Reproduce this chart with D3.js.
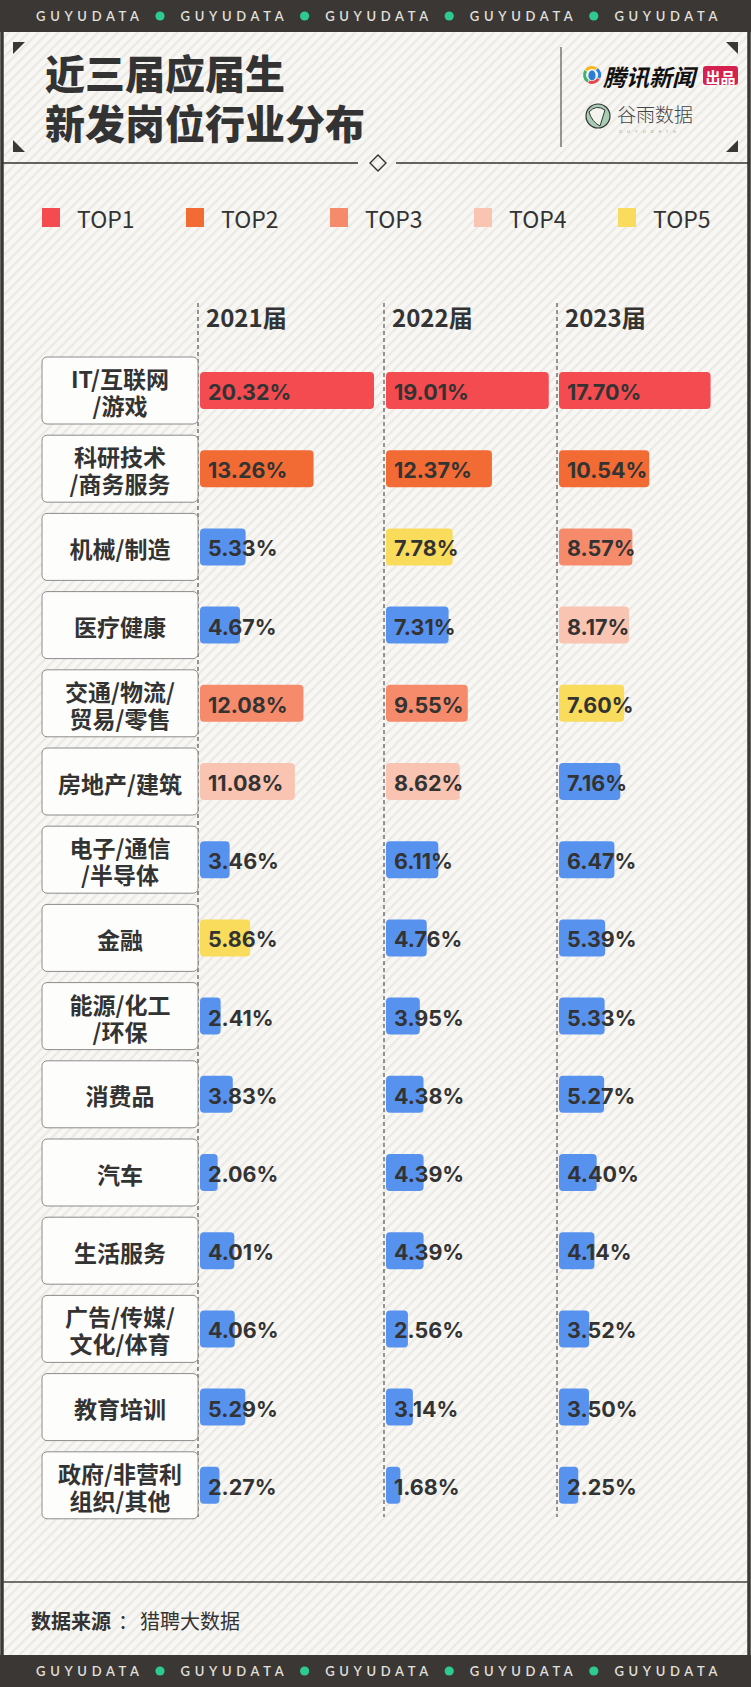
<!DOCTYPE html>
<html><head><meta charset="utf-8">
<script src="https://cdn.jsdelivr.net/npm/d3@7"></script>
<style>
html,body{margin:0;padding:0;background:#f8f7f4;}
svg{display:block;}
</style></head>
<body>
<script>
// ---------- DATA ----------
const categories = [
  ["IT/互联网","/游戏"],
  ["科研技术","/商务服务"],
  ["机械/制造"],
  ["医疗健康"],
  ["交通/物流/","贸易/零售"],
  ["房地产/建筑"],
  ["电子/通信","/半导体"],
  ["金融"],
  ["能源/化工","/环保"],
  ["消费品"],
  ["汽车"],
  ["生活服务"],
  ["广告/传媒/","文化/体育"],
  ["教育培训"],
  ["政府/非营利","组织/其他"]
];
const years = ["2021届","2022届","2023届"];
const v2021 = [20.32,13.26,5.33,4.67,12.08,11.08,3.46,5.86,2.41,3.83,2.06,4.01,4.06,5.29,2.27];
const v2022 = [19.01,12.37,7.78,7.31,9.55,8.62,6.11,4.76,3.95,4.38,4.39,4.39,2.56,3.14,1.68];
const v2023 = [17.70,10.54,8.57,8.17,7.60,7.16,6.47,5.39,5.33,5.27,4.40,4.14,3.52,3.50,2.25];
const legendLabels = ["TOP1","TOP2","TOP3","TOP4","TOP5"];
const titleLines = ["近三届应届生","新发岗位行业分布"];
const bandWord = "GUYUDATA";
const sourceLabel = "数据来源";
const sourceText = "猎聘大数据";

// ---------- STYLE ----------
const W = 751, H = 1687;
const topColors = ["#f44b50","#f26a34","#f68b6c","#f9c4b1","#f9dc5b"];
const otherColor = "#5892ef";
const dark = "#3b3735";
const textDark = "#333";
const cjk = "'Noto Sans CJK SC','Noto Sans',sans-serif";
const num = "Inter,'Open Sans',sans-serif";

const svg = d3.select("body").append("svg").attr("width", W).attr("height", H);
const defs = svg.append("defs");
const pat = defs.append("pattern").attr("id","stripes").attr("patternUnits","userSpaceOnUse")
  .attr("width",7).attr("height",7).attr("patternTransform","rotate(45)");
pat.append("rect").attr("width",7).attr("height",7).attr("fill","#f8f7f4");
pat.append("rect").attr("x",0).attr("width",2.2).attr("height",7).attr("fill","#ebe9e5");

svg.append("rect").attr("width",W).attr("height",H).attr("fill","url(#stripes)");

// bands
function band(y0){
  svg.append("rect").attr("x",0).attr("y",y0).attr("width",W).attr("height",32).attr("fill",dark);
  for(let i=0;i<5;i++){
    const x = 36 + i*144.6;
    svg.append("text").attr("x",x).attr("y",y0+16).attr("dominant-baseline","central")
      .attr("font-family","Lato,'Open Sans',sans-serif").attr("font-weight",600).attr("font-size",13)
      .attr("textLength",103).attr("lengthAdjust","spacing")
      .attr("fill","#e2e0dd").text(bandWord);
    if(i<4) svg.append("circle").attr("cx",x+124).attr("cy",y0+16).attr("r",4.6).attr("fill","#2dcc8e");
  }
}
band(0);
band(1655);

// frame
svg.append("line").attr("x1",2).attr("x2",2).attr("y1",31).attr("y2",1656).attr("stroke",dark).attr("stroke-width",3.5);
svg.append("line").attr("x1",749).attr("x2",749).attr("y1",31).attr("y2",1656).attr("stroke",dark).attr("stroke-width",3.5);

// corner triangles
const tri = [[13,42,1,1],[738,42,-1,1],[13,152,1,-1],[738,152,-1,-1]];
tri.forEach(([x,y,sx,sy])=>{
  svg.append("path").attr("d",`M${x},${y}L${x+12*sx},${y}L${x},${y+12*sy}Z`).attr("fill",dark);
});

// title
titleLines.forEach((t,i)=>{
  svg.append("text").attr("x",45).attr("y",72+i*50).attr("dominant-baseline","central")
    .attr("font-family",cjk).attr("font-weight",900).attr("font-size",40).attr("fill",textDark).text(t);
});

// header divider
svg.append("line").attr("x1",561).attr("x2",561).attr("y1",47).attr("y2",147).attr("stroke","#555").attr("stroke-width",1.2);

// Tencent logo
const lg = svg.append("g").attr("transform","translate(592,75)");
const arcG = d3.arc().innerRadius(6).outerRadius(9);
const segs = [["#f6b81d",-0.9,0.6],["#2f7fe0",0.7,2.0],["#e8464a",2.1,3.6],["#3db46d",3.7,5.3]];
segs.forEach(([c,a0,a1])=>lg.append("path").attr("d",arcG({startAngle:a0,endAngle:a1})).attr("fill",c));
lg.append("ellipse").attr("cx",0).attr("cy",0.5).attr("rx",3.6).attr("ry",5).attr("fill","#2b7cd3");
svg.append("text").attr("x",603).attr("y",76).attr("dominant-baseline","central")
  .attr("font-family",cjk).attr("font-weight",700).attr("font-style","italic").attr("font-size",23)
  .attr("fill","#111").text("腾讯新闻");
svg.append("rect").attr("x",703).attr("y",66).attr("width",35).attr("height",19).attr("rx",3).attr("fill","#d6204f");
svg.append("text").attr("x",720.5).attr("y",76).attr("text-anchor","middle").attr("dominant-baseline","central")
  .attr("font-family",cjk).attr("font-weight",700).attr("font-size",15).attr("fill","#fff").text("出品");

// Guyu logo
svg.append("circle").attr("cx",598).attr("cy",116).attr("r",12).attr("fill","#a9cdb3").attr("stroke","#333").attr("stroke-width",1.2);
svg.append("path").attr("d","M589,112 Q596,104 605,110 L600,126 Q592,122 589,112Z").attr("fill","#f4f4ef").attr("stroke","#333").attr("stroke-width",1);
svg.append("text").attr("x",617).attr("y",113).attr("dominant-baseline","central")
  .attr("font-family",cjk).attr("font-weight",300).attr("font-size",19).attr("fill","#444").text("谷雨数据");
svg.append("text").attr("x",619).attr("y",131).attr("dominant-baseline","central")
  .attr("font-family",num).attr("font-size",4).attr("letter-spacing",5).attr("fill","#999").text("GUYUDATA");

// header line with diamond
svg.append("line").attr("x1",2).attr("x2",358).attr("y1",163).attr("y2",163).attr("stroke","#333").attr("stroke-width",1.4);
svg.append("line").attr("x1",396).attr("x2",749).attr("y1",163).attr("y2",163).attr("stroke","#333").attr("stroke-width",1.4);
svg.append("path").attr("d","M378,155L386,163L378,171L370,163Z").attr("fill","none").attr("stroke","#333").attr("stroke-width",1.4);

// legend
const leg = svg.append("g").selectAll("g").data(legendLabels).join("g")
  .attr("transform",(d,i)=>`translate(${42+i*144},208)`);
leg.append("rect").attr("width",18).attr("height",19).attr("fill",(d,i)=>topColors[i]);
leg.append("text").attr("x",35).attr("y",10).attr("dominant-baseline","central")
  .attr("font-family",cjk).attr("font-weight",400).attr("font-size",23).attr("fill",textDark).text(d=>d);

// scales
const idx = d3.range(categories.length);
const y = d3.scalePoint().domain(idx).range([390.5,1485.3]);
const colX = [198,384,557];
const x = d3.scaleLinear().domain([0,20.32]).range([0,174]);
const series = [v2021,v2022,v2023];

// column headers & dashed lines
years.forEach((yr,j)=>{
  svg.append("line").attr("x1",colX[j]).attr("x2",colX[j]).attr("y1",303).attr("y2",1517)
    .attr("stroke","#333").attr("stroke-width",1).attr("stroke-dasharray","4,3");
  svg.append("text").attr("x",colX[j]+8).attr("y",316).attr("dominant-baseline","central")
    .attr("font-family",cjk).attr("font-weight",700).attr("font-size",24).attr("fill",textDark).text(yr);
});

// row labels
const rows = svg.append("g").selectAll("g").data(idx).join("g")
  .attr("transform",d=>`translate(0,${y(d)})`);
rows.append("rect").attr("x",42).attr("y",-33.5).attr("width",156).attr("height",67).attr("rx",5)
  .attr("fill","#fdfdfc").attr("stroke","#8c8c8c").attr("stroke-width",1);
rows.each(function(d){
  const lines = categories[d];
  const t = d3.select(this).append("text").attr("text-anchor","middle")
    .attr("font-family",cjk).attr("font-weight",700).attr("font-size",23).attr("fill",textDark);
  if(lines.length===1){
    t.append("tspan").attr("x",120).attr("y",1).attr("dominant-baseline","central").text(lines[0]);
  } else {
    t.append("tspan").attr("x",120).attr("y",-12.5).attr("dominant-baseline","central").text(lines[0]);
    t.append("tspan").attr("x",120).attr("y",14.5).attr("dominant-baseline","central").text(lines[1]);
  }
});

// bars
series.forEach((vals,j)=>{
  const ranked = vals.map((v,i)=>i).sort((a,b)=>vals[b]-vals[a]);
  const rank = {};
  ranked.forEach((i,r)=>rank[i]=r);
  const g = svg.append("g");
  g.selectAll("rect").data(idx).join("rect")
    .attr("x",colX[j]+2).attr("y",d=>y(d)-18.5).attr("height",37)
    .attr("width",d=>x(vals[d])).attr("rx",4)
    .attr("fill",d=>rank[d]<5?topColors[rank[d]]:otherColor);
  g.selectAll("text").data(idx).join("text")
    .attr("x",colX[j]+10).attr("y",d=>y(d)+1.5).attr("dominant-baseline","central")
    .attr("font-family",num).attr("font-weight",700).attr("font-size",21.5).attr("fill","#333")
    .text(d=>vals[d].toFixed(2)+"%");
});

// footer
svg.append("line").attr("x1",2).attr("x2",749).attr("y1",1582).attr("y2",1582).attr("stroke","#444").attr("stroke-width",1.5);
svg.append("text").attr("x",31).attr("y",1620).attr("dominant-baseline","central")
  .attr("font-family",cjk).attr("font-weight",700).attr("font-size",20).attr("fill",textDark).text(sourceLabel);
svg.append("text").attr("x",118).attr("y",1620).attr("dominant-baseline","central")
  .attr("font-family",cjk).attr("font-weight",400).attr("font-size",20).attr("fill",textDark).text("：");
svg.append("text").attr("x",140).attr("y",1620).attr("dominant-baseline","central")
  .attr("font-family",cjk).attr("font-weight",400).attr("font-size",20).attr("fill",textDark).text(sourceText);
</script>
</body></html>
